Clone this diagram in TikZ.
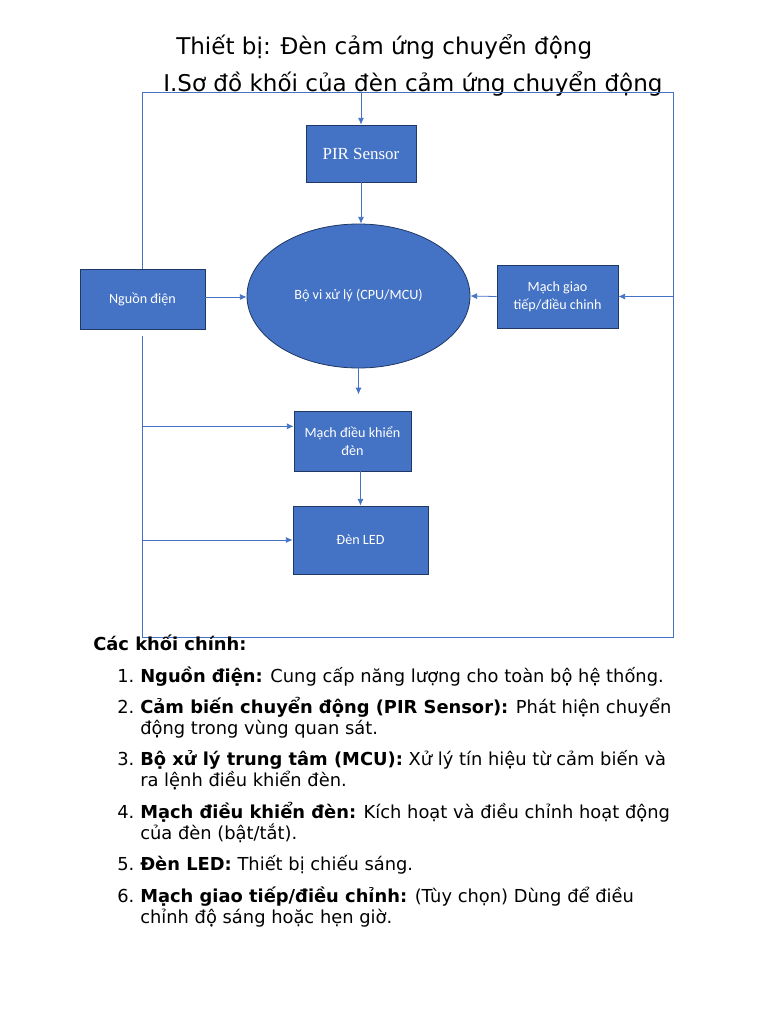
\documentclass[tikz,border=0pt]{standalone}
\usepackage{fontspec}
\setmainfont{DejaVu Sans}
\newfontfamily\boxfont{Carlito}
\newfontfamily\pirfont{Liberation Serif}
\usepackage{xcolor}
\usepackage{tikz}
\usetikzlibrary{shapes,arrows.meta}
\definecolor{ofblue}{HTML}{4472C4}
\definecolor{ofedge}{HTML}{1F3864}
\tikzset{
  blk/.style={draw=ofedge, fill=ofblue, line width=0.6pt, text=white, align=center, font=\boxfont\fontsize{10.6}{13.5}\selectfont},
  wire/.style={draw=ofblue, line width=0.6pt},
  arr/.style={wire, -{Latex[length=5pt,width=4.5pt]}},
  ttl/.style={anchor=base west, inner sep=0pt, font=\fontsize{17.3}{20}\selectfont},
  listtxt/.style={anchor=base west, inner sep=0pt, font=\fontsize{13.4}{16}\selectfont}
}
\begin{document}
\begin{tikzpicture}[x=0.75pt, y=-0.75pt]
\useasboundingbox[fill=white] (0,0) rectangle (768,1024);
% titles
\node[ttl] (title1) at (176,55) {Thiết bị: Đèn cảm ứng chuyển động};
\node[ttl] (title2) at (163,91) {I.Sơ đồ khối của đèn cảm ứng chuyển động};
% blocks
\node[blk, minimum width=82.5pt, minimum height=42.75pt, font=\pirfont\fontsize{12.7}{15}\selectfont] (pir) at (361,153.5) {PIR Sensor};
\node[blk, ellipse, minimum width=167.25pt, minimum height=108pt] (cpu) at (358.5,296) {Bộ vi xử lý (CPU/MCU)};
\node[blk, minimum width=93.75pt, minimum height=45pt] (pwr) at (142.5,299) {Nguồn điện};
\node[blk, minimum width=90.75pt, minimum height=47.25pt] (iface) at (557.5,296.5) {Mạch giao\\tiếp/điều chinh};
\node[blk, minimum width=87.75pt, minimum height=45pt] (drv) at (352.5,441) {Mạch điều khiển\\đèn};
\node[blk, minimum width=101.25pt, minimum height=51pt] (led) at (360.5,540) {Đèn LED};
% outer loop
\coordinate (tr) at (673,92);
\coordinate (br) at (673,637);
\draw[wire] (pwr.north) -- (pwr.north |- tr) -- (tr) -- (br) -- (pwr.south |- br) -- ([yshift=-5pt]pwr.south);
% arrows
\draw[arr] (pir.north |- tr) -- (pir.north);
\draw[arr] (pir.south) -- (pir.south |- cpu.north);
\draw[arr] ([yshift=1.5pt]pwr.east) -- ([yshift=1.5pt]pwr.east -| cpu.west);
\draw[arr] (iface.west) -- (cpu.east);
\draw[arr] (tr |- iface.east) -- (iface.east);
\draw[arr] (cpu.south) -- ++(0,26);
\draw[arr] (led.north |- drv.south) -- (led.north);
\draw[arr] ([yshift=11pt]drv.west -| pwr.south) -- ([yshift=11pt]drv.west);
\draw[arr] (pwr.south |- led.west) -- (led.west);
% list
\node[listtxt] (head) at (93,650) {\textbf{Các khối chính:}};
\foreach \k/\yy in {1/682,2/713,3/765,4/818,5/870,6/902}
  \node[listtxt] (num\k) at (117,\yy) {\k.};
\node[listtxt] (t1) at (140,682) {\textbf{Nguồn điện:} Cung cấp năng lượng cho toàn bộ hệ thống.};
\node[listtxt] (t2) at (140,713) {\textbf{Cảm biến chuyển động (PIR Sensor):} Phát hiện chuyển};
\node[listtxt] (t2b) at (140,734) {động trong vùng quan sát.};
\node[listtxt] (t3) at (140,765) {\textbf{Bộ xử lý trung tâm (MCU):} Xử lý tín hiệu từ cảm biến và};
\node[listtxt] (t3b) at (140,786) {ra lệnh điều khiển đèn.};
\node[listtxt] (t4) at (140,818) {\textbf{Mạch điều khiển đèn:} Kích hoạt và điều chỉnh hoạt động};
\node[listtxt] (t4b) at (140,839) {của đèn (bật/tắt).};
\node[listtxt] (t5) at (140,870) {\textbf{Đèn LED:} Thiết bị chiếu sáng.};
\node[listtxt] (t6) at (140,902) {\textbf{Mạch giao tiếp/điều chỉnh:} (Tùy chọn) Dùng để điều};
\node[listtxt] (t6b) at (140,923) {chỉnh độ sáng hoặc hẹn giờ.};
\end{tikzpicture}
\end{document}
